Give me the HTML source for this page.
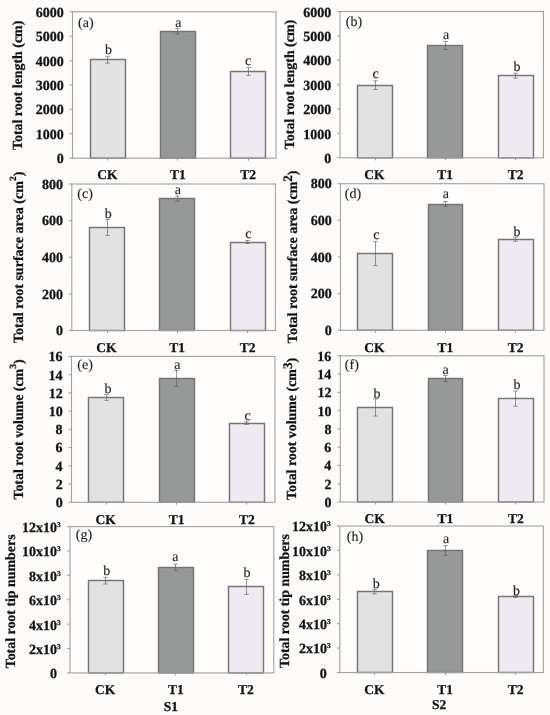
<!DOCTYPE html>
<html><head><meta charset="utf-8"><style>
html,body{margin:0;padding:0;background:#fdfcfb;}
svg{display:block;filter:blur(0.35px);}
text{text-rendering:geometricPrecision;font-family:"Liberation Serif","Times New Roman",serif;fill:#111111;}
.tk{font-weight:bold;stroke:#111111;stroke-width:0.25px;}
.sp{font-size:7.5px;}
.tsp{font-size:10px;}
.xl{font-size:13.5px;font-weight:bold;stroke:#111111;stroke-width:0.25px;}
.lt{font-size:14px;fill:#222222;stroke:#222222;stroke-width:0.12px;}
.yt{font-size:13.9px;font-weight:bold;stroke:#111111;stroke-width:0.25px;}
.fr{stroke:#a0a0a0;stroke-width:1.1;fill:none;}
.bar{stroke:#747474;stroke-width:1.45;}
.err{stroke:#555555;stroke-width:0.6;fill:none;}
</style></head><body>
<svg width="550" height="715" viewBox="0 0 550 715">
<rect x="0" y="0" width="550" height="715" fill="#fdfcfb"/>
<rect x="72.5" y="11.8" width="203.5" height="146.4" fill="#fefdfc"/>
<path d="M69.7 158.2H72.5" class="fr"/>
<text x="56.66" y="163.28" class="tk" style="font-size:14px">0</text>
<path d="M69.7 133.8H72.5" class="fr"/>
<text x="35.66" y="138.88" class="tk" style="font-size:14px">1000</text>
<path d="M69.7 109.4H72.5" class="fr"/>
<text x="35.66" y="114.48" class="tk" style="font-size:14px">2000</text>
<path d="M69.7 85H72.5" class="fr"/>
<text x="35.66" y="90.08" class="tk" style="font-size:14px">3000</text>
<path d="M69.7 60.6H72.5" class="fr"/>
<text x="35.66" y="65.69" class="tk" style="font-size:14px">4000</text>
<path d="M69.7 36.2H72.5" class="fr"/>
<text x="35.66" y="41.29" class="tk" style="font-size:14px">5000</text>
<path d="M69.7 11.8H72.5" class="fr"/>
<text x="35.66" y="16.89" class="tk" style="font-size:14px">6000</text>
<rect x="90.5" y="59.5" width="35" height="98.7" fill="#e3e2e3" class="bar"/>
<path d="M107.5 56.3V63.2M105.2 56.3H109.8M105.2 63.2H109.8" class="err"/>
<text x="104.88" y="53.66" class="lt">b</text>
<path d="M107.5 158.2V160.7" class="fr"/>
<rect x="160.5" y="31.5" width="35" height="126.7" fill="#979998" class="bar"/>
<path d="M177.5 28.5V34M175.2 28.5H179.8M175.2 34H179.8" class="err"/>
<text x="175.25" y="26.66" class="lt">a</text>
<path d="M177.5 158.2V160.7" class="fr"/>
<rect x="230.5" y="71.5" width="35" height="86.7" fill="#efe9f1" class="bar"/>
<path d="M248.5 67.5V75.4M246.2 67.5H250.8M246.2 75.4H250.8" class="err"/>
<text x="245.12" y="65.06" class="lt">c</text>
<path d="M248.5 158.2V160.7" class="fr"/>
<rect x="72.5" y="11.8" width="203.5" height="146.4" fill="none" class="fr"/>
<text x="97.21" y="179.41" class="xl">CK</text>
<text x="169.97" y="179.41" class="xl">T1</text>
<text x="240.16" y="179.41" class="xl">T2</text>
<text x="78.07" y="26.86" class="lt">(a)</text>
<text transform="translate(21.8,85.35) rotate(-90)" class="yt" text-anchor="middle">Total root length (cm)</text>
<rect x="340" y="11.5" width="203.4" height="146.3" fill="#fefdfc"/>
<path d="M337.2 157.8H340" class="fr"/>
<text x="324.16" y="162.89" class="tk" style="font-size:14px">0</text>
<path d="M337.2 133.42H340" class="fr"/>
<text x="303.16" y="138.5" class="tk" style="font-size:14px">1000</text>
<path d="M337.2 109.03H340" class="fr"/>
<text x="303.16" y="114.12" class="tk" style="font-size:14px">2000</text>
<path d="M337.2 84.65H340" class="fr"/>
<text x="303.16" y="89.73" class="tk" style="font-size:14px">3000</text>
<path d="M337.2 60.27H340" class="fr"/>
<text x="303.16" y="65.35" class="tk" style="font-size:14px">4000</text>
<path d="M337.2 35.88H340" class="fr"/>
<text x="303.16" y="40.97" class="tk" style="font-size:14px">5000</text>
<path d="M337.2 11.5H340" class="fr"/>
<text x="303.16" y="16.59" class="tk" style="font-size:14px">6000</text>
<rect x="357.5" y="85.5" width="35" height="72.3" fill="#e3e2e3" class="bar"/>
<path d="M375.5 80.8V89.5M373.2 80.8H377.8M373.2 89.5H377.8" class="err"/>
<text x="372.56" y="78.36" class="lt">c</text>
<path d="M375.5 157.8V160.3" class="fr"/>
<rect x="427.5" y="45.5" width="35" height="112.3" fill="#979998" class="bar"/>
<path d="M445.5 41.5V49.5M443.2 41.5H447.8M443.2 49.5H447.8" class="err"/>
<text x="443" y="38.86" class="lt">a</text>
<path d="M445.5 157.8V160.3" class="fr"/>
<rect x="498.5" y="75.5" width="35" height="82.3" fill="#efe9f1" class="bar"/>
<path d="M515.5 73.2V78.2M513.2 73.2H517.8M513.2 78.2H517.8" class="err"/>
<text x="513.53" y="70.86" class="lt">b</text>
<path d="M515.5 157.8V160.3" class="fr"/>
<rect x="340" y="11.5" width="203.4" height="146.3" fill="none" class="fr"/>
<text x="364.31" y="179.01" class="xl">CK</text>
<text x="437.27" y="179.01" class="xl">T1</text>
<text x="507.81" y="179.01" class="xl">T2</text>
<text x="345.87" y="25.86" class="lt">(b)</text>
<text transform="translate(294.2,84.55) rotate(-90)" class="yt" text-anchor="middle">Total root length (cm)</text>
<rect x="71.8" y="184" width="203.6" height="146.5" fill="#fefdfc"/>
<path d="M69 330.5H71.8" class="fr"/>
<text x="55.96" y="335.28" class="tk" style="font-size:14px">0</text>
<path d="M69 293.88H71.8" class="fr"/>
<text x="41.96" y="298.66" class="tk" style="font-size:14px">200</text>
<path d="M69 257.25H71.8" class="fr"/>
<text x="41.96" y="262.03" class="tk" style="font-size:14px">400</text>
<path d="M69 220.62H71.8" class="fr"/>
<text x="41.96" y="225.41" class="tk" style="font-size:14px">600</text>
<path d="M69 184H71.8" class="fr"/>
<text x="41.96" y="188.78" class="tk" style="font-size:14px">800</text>
<rect x="89.5" y="227.5" width="35" height="103" fill="#e3e2e3" class="bar"/>
<path d="M107.5 219.4V235.4M105.2 219.4H109.8M105.2 235.4H109.8" class="err"/>
<text x="104.68" y="217.56" class="lt">b</text>
<path d="M107.5 330.5V333" class="fr"/>
<rect x="159.5" y="198.5" width="35" height="132" fill="#979998" class="bar"/>
<path d="M177.5 196V201.2M175.2 196H179.8M175.2 201.2H179.8" class="err"/>
<text x="174.65" y="194.16" class="lt">a</text>
<path d="M177.5 330.5V333" class="fr"/>
<rect x="230.5" y="242.5" width="35" height="88" fill="#efe9f1" class="bar"/>
<path d="M247.5 240.5V243.5M245.2 240.5H249.8M245.2 243.5H249.8" class="err"/>
<text x="245.31" y="237.86" class="lt">c</text>
<path d="M247.5 330.5V333" class="fr"/>
<rect x="71.8" y="184" width="203.6" height="146.5" fill="none" class="fr"/>
<text x="96.36" y="351.71" class="xl">CK</text>
<text x="169.17" y="351.71" class="xl">T1</text>
<text x="239.75" y="351.71" class="xl">T2</text>
<text x="77.37" y="197.86" class="lt">(c)</text>
<text transform="translate(23.1,257.3) rotate(-90)" class="yt" text-anchor="middle" style="font-size:14.05px">Total root surface area (cm<tspan style="font-size:9.5px" dy="-7.2">2</tspan><tspan dy="7.2">)</tspan></text>
<rect x="340.5" y="183.7" width="203.5" height="146.6" fill="#fefdfc"/>
<path d="M337.7 330.3H340.5" class="fr"/>
<text x="324.66" y="335.08" class="tk" style="font-size:14px">0</text>
<path d="M337.7 293.65H340.5" class="fr"/>
<text x="310.66" y="298.43" class="tk" style="font-size:14px">200</text>
<path d="M337.7 257H340.5" class="fr"/>
<text x="310.66" y="261.78" class="tk" style="font-size:14px">400</text>
<path d="M337.7 220.35H340.5" class="fr"/>
<text x="310.66" y="225.13" class="tk" style="font-size:14px">600</text>
<path d="M337.7 183.7H340.5" class="fr"/>
<text x="310.66" y="188.48" class="tk" style="font-size:14px">800</text>
<rect x="357.5" y="253.5" width="35" height="76.8" fill="#e3e2e3" class="bar"/>
<path d="M375.5 241.6V265.6M373.2 241.6H377.8M373.2 265.6H377.8" class="err"/>
<text x="373.31" y="238.66" class="lt">c</text>
<path d="M375.5 330.3V332.8" class="fr"/>
<rect x="428.5" y="204.5" width="34" height="125.8" fill="#979998" class="bar"/>
<path d="M445.5 201.5V206.3M443.2 201.5H447.8M443.2 206.3H447.8" class="err"/>
<text x="442.75" y="198.36" class="lt">a</text>
<path d="M445.5 330.3V332.8" class="fr"/>
<rect x="498.5" y="239.5" width="35" height="90.8" fill="#efe9f1" class="bar"/>
<path d="M515.5 237V241.3M513.2 237H517.8M513.2 241.3H517.8" class="err"/>
<text x="513.53" y="236.06" class="lt">b</text>
<path d="M515.5 330.3V332.8" class="fr"/>
<rect x="340.5" y="183.7" width="203.5" height="146.6" fill="none" class="fr"/>
<text x="364.36" y="351.51" class="xl">CK</text>
<text x="437.47" y="351.51" class="xl">T1</text>
<text x="507.86" y="351.51" class="xl">T2</text>
<text x="344.87" y="197.61" class="lt">(d)</text>
<text transform="translate(297,256.8) rotate(-90)" class="yt" text-anchor="middle" style="font-size:14.0px">Total root surface area (cm<tspan style="font-size:13px" dy="-5.0">2</tspan><tspan dy="5.0">)</tspan></text>
<rect x="71.5" y="356.4" width="203.4" height="145.9" fill="#fefdfc"/>
<path d="M68.7 502.3H71.5" class="fr"/>
<text x="55.66" y="507.24" class="tk" style="font-size:14px">0</text>
<path d="M68.7 484.06H71.5" class="fr"/>
<text x="55.66" y="489.03" class="tk" style="font-size:14px">2</text>
<path d="M68.7 465.82H71.5" class="fr"/>
<text x="55.38" y="470.8" class="tk" style="font-size:14px">4</text>
<path d="M68.7 447.59H71.5" class="fr"/>
<text x="55.52" y="452.49" class="tk" style="font-size:14px">6</text>
<path d="M68.7 429.35H71.5" class="fr"/>
<text x="55.59" y="434.29" class="tk" style="font-size:14px">8</text>
<path d="M68.7 411.11H71.5" class="fr"/>
<text x="48.66" y="416.05" class="tk" style="font-size:14px">10</text>
<path d="M68.7 392.88H71.5" class="fr"/>
<text x="48.66" y="397.85" class="tk" style="font-size:14px">12</text>
<path d="M68.7 374.64H71.5" class="fr"/>
<text x="48.38" y="379.61" class="tk" style="font-size:14px">14</text>
<path d="M68.7 356.4H71.5" class="fr"/>
<text x="48.52" y="361.3" class="tk" style="font-size:14px">16</text>
<rect x="88.5" y="397.5" width="35" height="104.8" fill="#e3e2e3" class="bar"/>
<path d="M106.5 394.5V400.4M104.2 394.5H108.8M104.2 400.4H108.8" class="err"/>
<text x="104.43" y="392.86" class="lt">b</text>
<path d="M106.5 502.3V504.8" class="fr"/>
<rect x="159.5" y="378.5" width="35" height="123.8" fill="#979998" class="bar"/>
<path d="M176.5 370.5V386.5M174.2 370.5H178.8M174.2 386.5H178.8" class="err"/>
<text x="174.25" y="368.56" class="lt">a</text>
<path d="M176.5 502.3V504.8" class="fr"/>
<rect x="229.5" y="423.5" width="35" height="78.8" fill="#efe9f1" class="bar"/>
<path d="M246.5 421.8V424.4M244.2 421.8H248.8M244.2 424.4H248.8" class="err"/>
<text x="244.47" y="419.86" class="lt">c</text>
<path d="M246.5 502.3V504.8" class="fr"/>
<rect x="71.5" y="356.4" width="203.4" height="145.9" fill="none" class="fr"/>
<text x="95.61" y="523.51" class="xl">CK</text>
<text x="168.87" y="523.51" class="xl">T1</text>
<text x="238.91" y="523.51" class="xl">T2</text>
<text x="77.37" y="368.86" class="lt">(e)</text>
<text transform="translate(22.8,429.5) rotate(-90)" class="yt" text-anchor="middle">Total root volume (cm<tspan style="font-size:9.5px" dy="-7.0">3</tspan><tspan dy="7.0">)</tspan></text>
<rect x="340.3" y="355.8" width="203.7" height="146.2" fill="#fefdfc"/>
<path d="M337.5 502H340.3" class="fr"/>
<text x="324.46" y="506.94" class="tk" style="font-size:14px">0</text>
<path d="M337.5 483.73H340.3" class="fr"/>
<text x="324.46" y="488.7" class="tk" style="font-size:14px">2</text>
<path d="M337.5 465.45H340.3" class="fr"/>
<text x="324.18" y="470.42" class="tk" style="font-size:14px">4</text>
<path d="M337.5 447.18H340.3" class="fr"/>
<text x="324.32" y="452.08" class="tk" style="font-size:14px">6</text>
<path d="M337.5 428.9H340.3" class="fr"/>
<text x="324.39" y="433.83" class="tk" style="font-size:14px">8</text>
<path d="M337.5 410.62H340.3" class="fr"/>
<text x="317.46" y="415.56" class="tk" style="font-size:14px">10</text>
<path d="M337.5 392.35H340.3" class="fr"/>
<text x="317.46" y="397.32" class="tk" style="font-size:14px">12</text>
<path d="M337.5 374.08H340.3" class="fr"/>
<text x="317.18" y="379.05" class="tk" style="font-size:14px">14</text>
<path d="M337.5 355.8H340.3" class="fr"/>
<text x="317.32" y="360.7" class="tk" style="font-size:14px">16</text>
<rect x="357.5" y="407.5" width="35" height="94.5" fill="#e3e2e3" class="bar"/>
<path d="M375.5 398.9V416M373.2 398.9H377.8M373.2 416H377.8" class="err"/>
<text x="373.43" y="397.66" class="lt">b</text>
<path d="M375.5 502V504.5" class="fr"/>
<rect x="428.5" y="378.5" width="34" height="123.5" fill="#979998" class="bar"/>
<path d="M445.5 375.5V381.5M443.2 375.5H447.8M443.2 381.5H447.8" class="err"/>
<text x="442.5" y="373.86" class="lt">a</text>
<path d="M445.5 502V504.5" class="fr"/>
<rect x="498.5" y="398.5" width="35" height="103.5" fill="#efe9f1" class="bar"/>
<path d="M515.5 391.1V406.2M513.2 391.1H517.8M513.2 406.2H517.8" class="err"/>
<text x="513.43" y="389.06" class="lt">b</text>
<path d="M515.5 502V504.5" class="fr"/>
<rect x="340.3" y="355.8" width="203.7" height="146.2" fill="none" class="fr"/>
<text x="364.41" y="523.21" class="xl">CK</text>
<text x="437.47" y="523.21" class="xl">T1</text>
<text x="507.91" y="523.21" class="xl">T2</text>
<text x="344.87" y="369.18" class="lt">(f)</text>
<text transform="translate(296.2,428.95) rotate(-90)" class="yt" text-anchor="middle">Total root volume (cm<tspan style="font-size:13px" dy="-4.2">3</tspan><tspan dy="4.2">)</tspan></text>
<rect x="70" y="526.6" width="203.8" height="146.3" fill="#fefdfc"/>
<path d="M67.2 672.9H70" class="fr"/>
<text x="49.96" y="678.28" class="tk" style="font-size:14px">0</text>
<path d="M67.2 648.52H70" class="fr"/>
<text x="29.11" y="653.9" class="tk" style="font-size:14px">2x10<tspan class="sp" dy="-5">3</tspan></text>
<path d="M67.2 624.13H70" class="fr"/>
<text x="29.11" y="629.52" class="tk" style="font-size:14px">4x10<tspan class="sp" dy="-5">3</tspan></text>
<path d="M67.2 599.75H70" class="fr"/>
<text x="29.11" y="605.13" class="tk" style="font-size:14px">6x10<tspan class="sp" dy="-5">3</tspan></text>
<path d="M67.2 575.37H70" class="fr"/>
<text x="29.11" y="580.75" class="tk" style="font-size:14px">8x10<tspan class="sp" dy="-5">3</tspan></text>
<path d="M67.2 550.98H70" class="fr"/>
<text x="22.11" y="556.37" class="tk" style="font-size:14px">10x10<tspan class="sp" dy="-5">3</tspan></text>
<path d="M67.2 526.6H70" class="fr"/>
<text x="22.11" y="531.99" class="tk" style="font-size:14px">12x10<tspan class="sp" dy="-5">3</tspan></text>
<rect x="88.5" y="580.5" width="35" height="92.4" fill="#e3e2e3" class="bar"/>
<path d="M105.5 577.3V584M103.2 577.3H107.8M103.2 584H107.8" class="err"/>
<text x="103.28" y="575.36" class="lt">b</text>
<path d="M105.5 672.9V675.4" class="fr"/>
<rect x="158.5" y="567.5" width="35" height="105.4" fill="#979998" class="bar"/>
<path d="M175.5 564.1V570.6M173.2 564.1H177.8M173.2 570.6H177.8" class="err"/>
<text x="172.34" y="560.86" class="lt">a</text>
<path d="M175.5 672.9V675.4" class="fr"/>
<rect x="228.5" y="586.5" width="35" height="86.4" fill="#efe9f1" class="bar"/>
<path d="M246.5 579.4V594.4M244.2 579.4H248.8M244.2 594.4H248.8" class="err"/>
<text x="243.43" y="577.36" class="lt">b</text>
<path d="M246.5 672.9V675.4" class="fr"/>
<rect x="70" y="526.6" width="203.8" height="146.3" fill="none" class="fr"/>
<text x="94.91" y="694.11" class="xl">CK</text>
<text x="167.92" y="694.11" class="xl">T1</text>
<text x="238.06" y="694.11" class="xl">T2</text>
<text x="75.87" y="538.86" class="lt">(g)</text>
<text transform="translate(15.2,601.4) rotate(-90)" class="yt" text-anchor="middle">Total root tip numbers</text>
<rect x="339.8" y="526" width="203.5" height="146.5" fill="#fefdfc"/>
<path d="M337 672.5H339.8" class="fr"/>
<text x="319.76" y="677.88" class="tk" style="font-size:14px">0</text>
<path d="M337 648.08H339.8" class="fr"/>
<text x="298.91" y="653.47" class="tk" style="font-size:14px">2x10<tspan class="sp" dy="-5">3</tspan></text>
<path d="M337 623.67H339.8" class="fr"/>
<text x="298.91" y="629.05" class="tk" style="font-size:14px">4x10<tspan class="sp" dy="-5">3</tspan></text>
<path d="M337 599.25H339.8" class="fr"/>
<text x="298.91" y="604.63" class="tk" style="font-size:14px">6x10<tspan class="sp" dy="-5">3</tspan></text>
<path d="M337 574.83H339.8" class="fr"/>
<text x="298.91" y="580.22" class="tk" style="font-size:14px">8x10<tspan class="sp" dy="-5">3</tspan></text>
<path d="M337 550.42H339.8" class="fr"/>
<text x="291.91" y="555.8" class="tk" style="font-size:14px">10x10<tspan class="sp" dy="-5">3</tspan></text>
<path d="M337 526H339.8" class="fr"/>
<text x="291.91" y="531.38" class="tk" style="font-size:14px">12x10<tspan class="sp" dy="-5">3</tspan></text>
<rect x="357.5" y="591.5" width="35" height="81" fill="#e3e2e3" class="bar"/>
<path d="M374.5 589.3V593.8M372.2 589.3H376.8M372.2 593.8H376.8" class="err"/>
<text x="372.68" y="588.36" class="lt">b</text>
<path d="M374.5 672.5V675" class="fr"/>
<rect x="427.5" y="550.5" width="35" height="122" fill="#979998" class="bar"/>
<path d="M445.5 545.6V555.4M443.2 545.6H447.8M443.2 555.4H447.8" class="err"/>
<text x="442.89" y="543.36" class="lt">a</text>
<path d="M445.5 672.5V675" class="fr"/>
<rect x="498.5" y="596.5" width="35" height="76" fill="#efe9f1" class="bar"/>
<path d="M515.5 595.6V597.5M513.2 595.6H517.8M513.2 597.5H517.8" class="err"/>
<text x="512.88" y="594.86" class="lt">b</text>
<path d="M515.5 672.5V675" class="fr"/>
<rect x="339.8" y="526" width="203.5" height="146.5" fill="none" class="fr"/>
<text x="364.2" y="693.71" class="xl">CK</text>
<text x="437.17" y="693.71" class="xl">T1</text>
<text x="507.81" y="693.71" class="xl">T2</text>
<text x="346.87" y="541.11" class="lt">(h)</text>
<text transform="translate(288.7,601.05) rotate(-90)" class="yt" text-anchor="middle">Total root tip numbers</text>
<text x="163.76" y="710.71" class="xl">S1</text>
<text x="431.96" y="708.91" class="xl">S2</text>
</svg>
</body></html>
